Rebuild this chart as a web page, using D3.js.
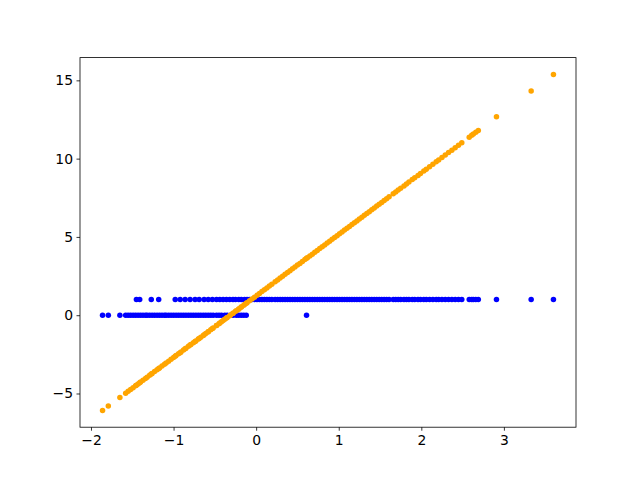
<!DOCTYPE html>
<html>
<head>
<meta charset="utf-8">
<script src="https://cdn.jsdelivr.net/npm/d3@7"></script>
<style>
  html, body { margin: 0; padding: 0; background: #fff; }
  svg text { font-family: "DejaVu Sans", sans-serif; font-size: 13.9px; fill: #000; }
</style>
</head>
<body>
<svg id="chart" width="640" height="480"></svg>
<script>
// x values of samples with label 0
const x0 = [-1.86, -1.79, -1.65, -1.58, -1.55, -1.52, -1.49, -1.46, -1.43, -1.40, -1.37, -1.34, -1.32, -1.29, -1.26, -1.23, -1.20, -1.17, -1.14, -1.11, -1.09, -1.06, -1.03, -1.00, -0.97, -0.94, -0.91, -0.88, -0.85, -0.82, -0.79, -0.76, -0.73, -0.70, -0.67, -0.64, -0.61, -0.58, -0.55, -0.52, -0.48, -0.45, -0.42, -0.38, -0.35, -0.31, -0.28, -0.24, -0.21, -0.18, -0.15, -0.12, 0.61];
// orange (predicted) values for the label-0 samples
const pred0 = [-6.08, -5.80, -5.26, -4.98, -4.86, -4.74, -4.63, -4.51, -4.39, -4.27, -4.15, -4.04, -3.96, -3.84, -3.72, -3.60, -3.49, -3.37, -3.25, -3.13, -3.05, -2.94, -2.82, -2.70, -2.58, -2.46, -2.35, -2.23, -2.11, -1.99, -1.87, -1.76, -1.64, -1.52, -1.40, -1.29, -1.17, -1.05, -0.93, -0.81, -0.66, -0.54, -0.42, -0.26, -0.15, 0.01, 0.13, 0.29, 0.40, 0.52, 0.64, 0.76, 3.63];
// x values of samples with label 1
const x1 = [-1.45, -1.41, -1.27, -1.18, -0.98, -0.92, -0.86, -0.80, -0.74, -0.69, -0.63, -0.58, -0.53, -0.48, -0.44, -0.40, -0.36, -0.32, -0.28, -0.25, -0.21, -0.18, -0.14, -0.11, -0.08, -0.05, -0.02, 0.01, 0.04, 0.07, 0.10, 0.13, 0.16, 0.19, 0.23, 0.26, 0.29, 0.32, 0.35, 0.38, 0.41, 0.44, 0.47, 0.50, 0.53, 0.56, 0.59, 0.62, 0.65, 0.68, 0.71, 0.74, 0.77, 0.80, 0.83, 0.86, 0.89, 0.92, 0.95, 0.98, 1.01, 1.04, 1.07, 1.10, 1.13, 1.16, 1.19, 1.22, 1.25, 1.28, 1.31, 1.34, 1.37, 1.40, 1.43, 1.46, 1.49, 1.52, 1.55, 1.58, 1.61, 1.66, 1.69, 1.72, 1.75, 1.79, 1.82, 1.85, 1.89, 1.92, 1.96, 1.99, 2.03, 2.06, 2.10, 2.14, 2.18, 2.21, 2.25, 2.29, 2.33, 2.37, 2.41, 2.45, 2.49, 2.58, 2.61, 2.63, 2.66, 2.69, 2.91, 3.33, 3.60];
// orange (predicted) values for the label-1 samples
const pred1 = [-4.47, -4.31, -3.76, -3.41, -2.62, -2.39, -2.15, -1.91, -1.68, -1.48, -1.25, -1.05, -0.85, -0.66, -0.50, -0.34, -0.18, -0.03, 0.13, 0.25, 0.40, 0.52, 0.68, 0.80, 0.92, 1.03, 1.15, 1.27, 1.39, 1.51, 1.62, 1.74, 1.86, 1.98, 2.13, 2.25, 2.37, 2.49, 2.61, 2.72, 2.84, 2.96, 3.08, 3.20, 3.31, 3.43, 3.55, 3.67, 3.78, 3.90, 4.02, 4.14, 4.26, 4.37, 4.49, 4.61, 4.73, 4.85, 4.96, 5.08, 5.20, 5.32, 5.44, 5.55, 5.67, 5.79, 5.91, 6.02, 6.14, 6.26, 6.38, 6.50, 6.61, 6.73, 6.85, 6.97, 7.09, 7.20, 7.32, 7.44, 7.56, 7.75, 7.87, 7.99, 8.11, 8.26, 8.38, 8.50, 8.66, 8.78, 8.93, 9.05, 9.21, 9.33, 9.48, 9.64, 9.80, 9.92, 10.07, 10.23, 10.39, 10.54, 10.70, 10.86, 11.02, 11.37, 11.49, 11.57, 11.68, 11.80, 12.67, 14.32, 15.38];
const xTicks = [-2, -1, 0, 1, 2, 3];
const yTicks = [-5, 0, 5, 10, 15];

const blue = x0.map(x => ({x, y: 0})).concat(x1.map(x => ({x, y: 1})));
const orange = x0.map((x, i) => ({x, y: pred0[i]})).concat(x1.map((x, i) => ({x, y: pred1[i]})));

const L = 80, R = 576, T = 57.6, B = 427.2;
const allX = blue.map(d => d.x);
const allY = blue.map(d => d.y).concat(orange.map(d => d.y));
function padded(ext) { const m = (ext[1] - ext[0]) * 0.05; return [ext[0] - m, ext[1] + m]; }
const xs = d3.scaleLinear().domain(padded(d3.extent(allX))).range([L, R]);
const ys = d3.scaleLinear().domain(padded(d3.extent(allY))).range([B, T]);

const svg = d3.select("#chart");
const fmt = v => (v < 0 ? "\u2212" + Math.abs(v) : String(v));

const plot = svg.append("g");
const r = 2.75;
plot.selectAll("circle.b").data(blue).enter().append("circle")
  .attr("class", "b").attr("cx", d => xs(d.x)).attr("cy", d => ys(d.y)).attr("r", r)
  .attr("fill", "#0000ff");
plot.selectAll("circle.o").data(orange).enter().append("circle")
  .attr("class", "o").attr("cx", d => xs(d.x)).attr("cy", d => ys(d.y)).attr("r", r)
  .attr("fill", "#ffa500");

const xAxis = d3.axisBottom(xs).tickValues(xTicks).tickFormat(fmt).tickSize(3.5).tickPadding(3.5);
const yAxis = d3.axisLeft(ys).tickValues(yTicks).tickFormat(fmt).tickSize(3.5).tickPadding(3.5);
const gx = svg.append("g").attr("transform", `translate(0,${B})`).call(xAxis);
const gy = svg.append("g").attr("transform", `translate(${L},0)`).call(yAxis);
[gx, gy].forEach(g => {
  g.select(".domain").remove();
  g.selectAll(".tick line").attr("stroke", "#000").attr("stroke-width", 0.8);
  g.selectAll(".tick text").style("font-family", "DejaVu Sans, sans-serif").style("font-size", "13.9px").attr("fill", "#000");
});
gx.selectAll(".tick text").attr("dy", "0.75em");

svg.append("rect").attr("x", L).attr("y", T).attr("width", R - L).attr("height", B - T)
  .attr("fill", "none").attr("stroke", "#000").attr("stroke-width", 0.8);
</script>
</body>
</html>
